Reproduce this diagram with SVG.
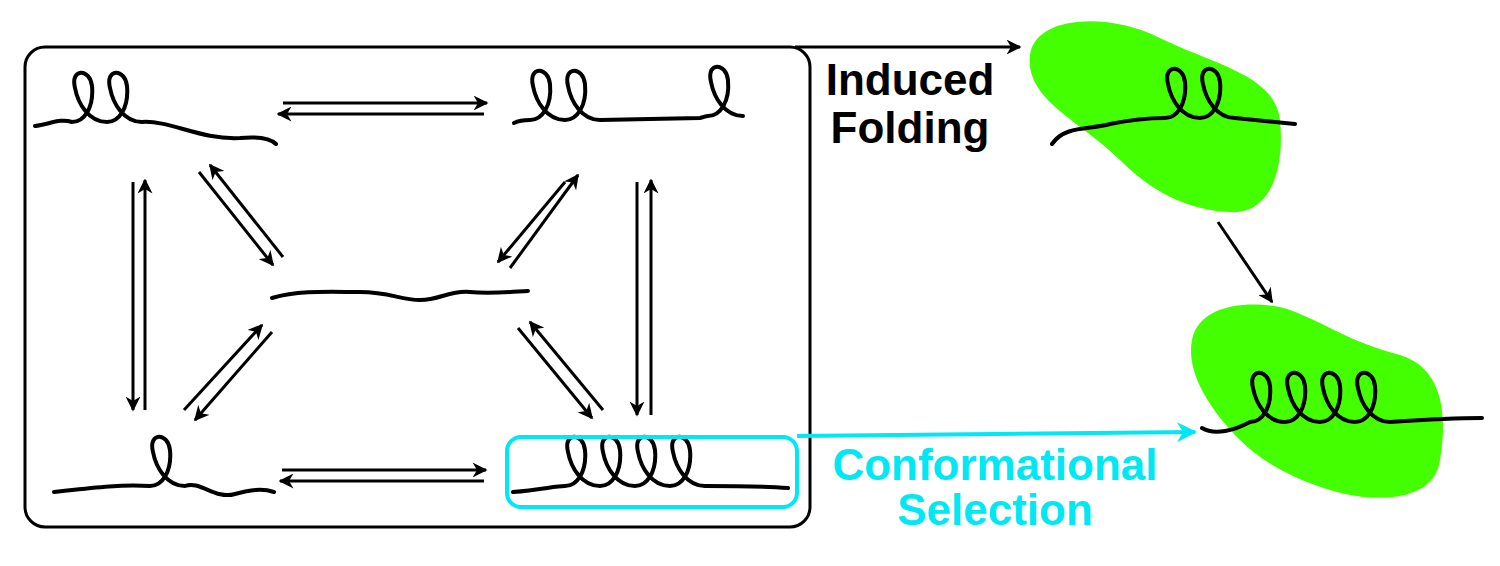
<svg xmlns="http://www.w3.org/2000/svg" width="1500" height="566" viewBox="0 0 1500 566">
<defs>
<style>
.ch{fill:none;stroke:#000;stroke-width:4;stroke-linecap:round;stroke-linejoin:round}
.ar{fill:none;stroke:#000;stroke-width:3;marker-end:url(#ah)}
.t{font-family:"Liberation Sans",Arial,sans-serif;font-weight:bold;font-size:44px;text-anchor:middle}
</style>
<marker id="ah" viewBox="0 0 10 10" refX="9" refY="5" markerWidth="5" markerHeight="5" orient="auto" markerUnits="strokeWidth"><path d="M0,0 L10,5 L0,10 L3,5z" fill="#000"/></marker>
<marker id="ahc" viewBox="0 0 10 10" refX="9" refY="5" markerWidth="5" markerHeight="5" orient="auto" markerUnits="strokeWidth"><path d="M0,0 L10,5 L0,10 L3,5z" fill="#00e8f4"/></marker>
</defs>
<rect x="25" y="47" width="785" height="480" rx="20" fill="none" stroke="#000" stroke-width="3"/>
<g id="blob1"><path d="M1030,55 C1035,15 1110,12 1160,38 C1215,65 1275,75 1280,120 C1285,170 1270,215 1230,212 C1185,210 1150,190 1120,160 C1080,120 1025,100 1030,55Z" fill="#44ff00"/></g>
<g id="blob2"><path d="M1192,340 C1200,300 1260,300 1290,310 C1330,325 1345,340 1400,355 C1450,370 1445,430 1440,460 C1435,500 1380,505 1330,490 C1290,478 1260,460 1240,440 C1215,415 1185,375 1192,340Z" fill="#44ff00"/></g>
<g id="n1"><path class="ch" d="M35,126 C50,124 60,118 72,122 c12,0 22,-14 20,-36 c-2,-18 -22,-18 -17,2 c3,16 14,34 32,34 c12,0 22,-14 20,-36 c-2,-18 -22,-18 -17,2 c3,16 14,34 32,34 C170,120 200,140 240,138 C262,136 272,140 276,144"/></g>
<g id="n2"><path class="ch" d="M514,123 C520,120 526,120 530,120 c12,0 22,-14 20,-36 c-2,-18 -22,-18 -17,2 c3,16 14,34 32,34 c12,0 22,-14 20,-36 c-2,-18 -22,-18 -17,2 c3,16 14,34 32,34 L700,118 C704,117 706,116 708,116 c12,0 22,-14 20,-36 c-2,-18 -22,-18 -17,2 c3,16 14,34 32,34"/></g>
<g id="n3"><path class="ch" d="M272,298 C300,290 330,292 360,292 C390,292 400,300 420,300 C440,300 450,290 470,292 C490,294 510,292 528,291"/></g>
<g id="n4"><path class="ch" d="M54,492 C90,488 120,484 150,486 c12,0 22,-14 20,-36 c-2,-18 -22,-18 -17,2 c3,16 14,34 32,34 C200,480 215,500 235,494 C250,490 262,488 274,492"/></g>
<g id="n5"><path class="ch" d="M513,492 C540,490 555,486 565,486 c12,0 22,-14 20,-36 c-2,-18 -22,-18 -17,2 c3,16 14,34 32,34 c12,0 22,-14 20,-36 c-2,-18 -22,-18 -17,2 c3,16 14,34 32,34 c12,0 22,-14 20,-36 c-2,-18 -22,-18 -17,2 c3,16 14,34 32,34 c12,0 22,-14 20,-36 c-2,-18 -22,-18 -17,2 c3,16 14,34 32,34 C730,486 760,486 788,488"/></g>
<g id="b1chain"><path class="ch" stroke-width="3" d="M1052,144 C1065,125 1090,130 1110,124 C1130,120 1150,118 1165,118 c12,0 22,-14 20,-36 c-2,-18 -22,-18 -17,2 c3,16 14,34 32,34 c12,0 22,-14 20,-36 c-2,-18 -22,-18 -17,2 c3,16 14,34 32,34 C1255,120 1275,122 1295,124"/></g>
<g id="b2chain"><path class="ch" stroke-width="3.5" d="M1202,428 C1215,436 1235,430 1250,422 c12,0 22,-14 20,-36 c-2,-18 -22,-18 -17,2 c3,16 14,34 32,34 c12,0 22,-14 20,-36 c-2,-18 -22,-18 -17,2 c3,16 14,34 32,34 c12,0 22,-14 20,-36 c-2,-18 -22,-18 -17,2 c3,16 14,34 32,34 c12,0 22,-14 20,-36 c-2,-18 -22,-18 -17,2 c3,16 14,34 32,34 C1420,420 1460,418 1482,418"/></g>
<g id="labels">
<text class="t" x="910" y="95">Induced</text>
<text class="t" x="910" y="143">Folding</text>
<text class="t" x="995" y="480" fill="#00e8f4">Conformational</text>
<text class="t" x="995" y="525" fill="#00e8f4">Selection</text>
</g>
<rect x="507" y="437" width="290" height="70" rx="14" fill="none" stroke="#00e8f4" stroke-width="4"/>
<g id="connectors">
<path class="ar" d="M795,47 L1020,47"/>
<path d="M797,436 L1195,432" fill="none" stroke="#00e8f4" stroke-width="4" marker-end="url(#ahc)"/>
<path class="ar" d="M1218,222 L1272,302"/>
<path class="ar" d="M283,103 L487,103"/>
<path class="ar" d="M484,114 L278,114"/>
<path class="ar" d="M282,470 L486,470"/>
<path class="ar" d="M484,481 L280,481"/>
<path class="ar" d="M133,182 L133,410"/>
<path class="ar" d="M145,410 L145,180"/>
<path class="ar" d="M637,182 L637,415"/>
<path class="ar" d="M651,415 L651,180"/>
<path class="ar" d="M199,172 L273,265"/>
<path class="ar" d="M283,257 L210,165"/>
<path class="ar" d="M565,182 L498,262"/>
<path class="ar" d="M510,268 L578,175"/>
<path class="ar" d="M272,332 L195,420"/>
<path class="ar" d="M184,410 L262,325"/>
<path class="ar" d="M518,328 L592,418"/>
<path class="ar" d="M603,410 L530,322"/>
</g>
</svg>
